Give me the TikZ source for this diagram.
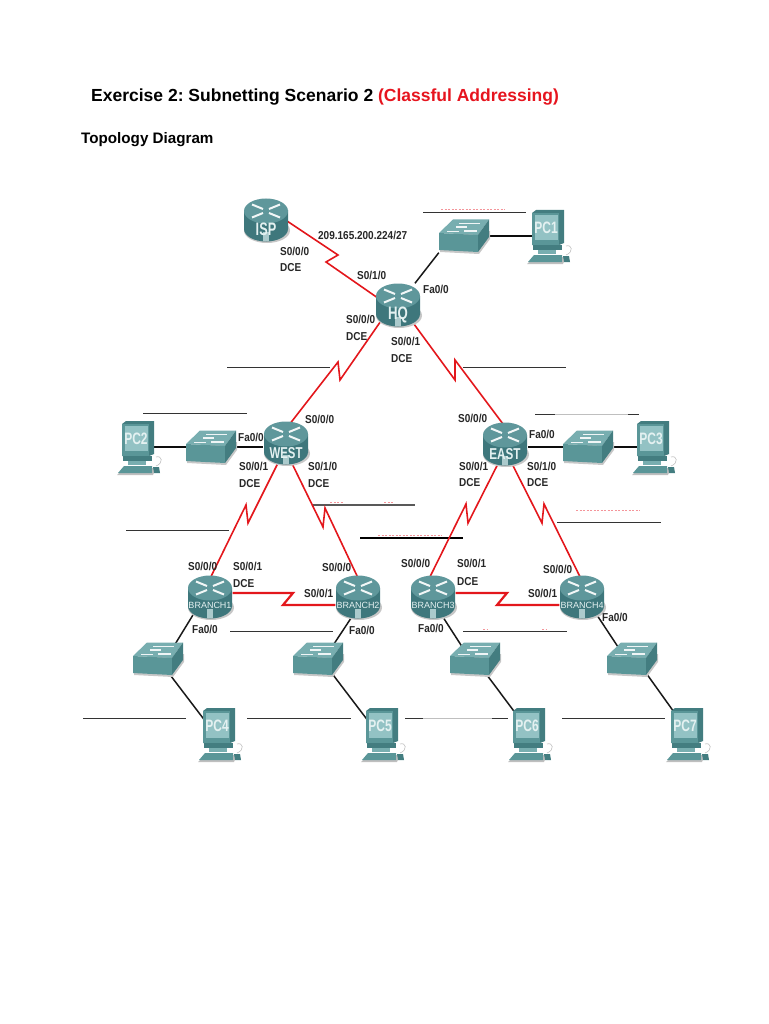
\documentclass[tikz,border=0pt]{standalone}
\usepackage{fontspec}
\setmainfont{Liberation Sans}
\frenchspacing
\definecolor{titlered}{HTML}{E6141E}
\definecolor{cablered}{HTML}{E3171C}
\definecolor{routertop}{HTML}{5F979B}
\definecolor{routerdark}{HTML}{3E777C}
\definecolor{routermid}{HTML}{73A7AA}
\definecolor{boxtop}{HTML}{78AEB0}
\definecolor{boxfront}{HTML}{5A9698}
\definecolor{boxside}{HTML}{437D80}
\definecolor{screenfill}{HTML}{93C2C4}
\definecolor{devtextcol}{HTML}{E4F1F1}
\tikzset{
  routerbox/.style={minimum width=45pt,minimum height=43pt,inner sep=0pt},
  switchbox/.style={minimum width=50pt,minimum height=33pt,inner sep=0pt},
  pcbox/.style={minimum width=32pt,minimum height=36pt,inner sep=0pt},
  lbl/.style={anchor=west,inner sep=0pt,xscale=.87,transform shape,font=\bfseries\fontsize{11.5}{11.5}\selectfont,text=black!85},
  bigdev/.style={inner sep=0pt,text=devtextcol,transform shape,font=\bfseries\fontsize{15}{15}\selectfont},
  smalldev/.style={inner sep=0pt,text=devtextcol,transform shape,font=\fontsize{9}{9}\selectfont},
  serial/.style={draw=cablered,line width=1.6pt,line join=miter},
  serialwide/.style={draw=cablered,line width=2.2pt,line join=miter},
  lan/.style={draw=black!90,line width=1.5pt},
  lanwide/.style={draw=black!95,line width=2pt},
  blankrule/.style={draw=black!80,line width=0.9pt},
  fadedrule/.style={draw=black!25,line width=0.7pt},
  speck/.style={draw=titlered!45,line width=0.6pt,dash pattern=on 2pt off 1.5pt},
  router/.pic={
    \fill[black!22] (1,10.5) ellipse [x radius=23,y radius=12.5];
    \shade[left color=routerdark,middle color=routermid,right color=routerdark] (0,9) ellipse [x radius=22,y radius=12.5];
    \shade[left color=routerdark,middle color=routermid,right color=routerdark] (-22,-9) rectangle (22,9);
    \fill[routermid!60!white] (-3,12) rectangle (3,21.2);
    \fill[routertop] (0,-9) ellipse [x radius=22,y radius=12.5];
    \draw[white!92!routertop,line width=2pt] (-14,-15.5) -- (-3,-11) (14,-15.5) -- (3,-11) (-14,-2.5) -- (-3,-7) (14,-2.5) -- (3,-7);
  },
  switch/.pic={
    \fill[black!22] (-24,-1) -- (-24,16) -- (15,18) -- (26,3) -- (26,-5) -- cycle;
    \fill[boxtop] (-25,-3) -- (-11,-16.5) -- (25,-16.5) -- (14,-1) -- cycle;
    \fill[boxfront] (-25,-3) -- (14,-1) -- (14,16) -- (-25,14) -- cycle;
    \fill[boxside] (14,-1) -- (25,-16.5) -- (25,1) -- (14,16) -- cycle;
    \draw[white!88!boxtop,line width=1.3pt] (-5,-12.5) -- (8,-12.5) (0,-5) -- (13,-5) (-17,-4.5) -- (-5,-4.5) (6,-12.5) -- (16,-12.5) (-8,-9) -- (3,-9);
  },
  pc/.pic={
    \fill[black!25] (-13,29) -- (-21,36) -- (15,36) -- (18,29) -- cycle;
    \fill[boxside] (-16,-15) -- (-12,-18) -- (16,-18) -- (16,15) -- (11,17) -- (-16,17) -- cycle;
    \fill[boxfront] (-16,-15) rectangle (11,17);
    \fill[screenfill] (-13,-13) rectangle (10,12);
    \fill[boxside] (-15,17) rectangle (14,22);
    \fill[boxtop] (-10,22) rectangle (8,26);
    \fill[boxfront] (-14,27) -- (14,27) -- (14,34) -- (-20,34) -- cycle;
    \fill[boxside] (15,28) -- (21,28) -- (22,34) -- (16,34) -- cycle;
    \draw[black!25,line width=0.6pt] (18,27) .. controls (26,24) and (24,16) .. (18,18);
  },
}
\begin{document}
\begin{tikzpicture}[x=1pt,y=-1pt]
    \useasboundingbox (0,0) rectangle (768,1024);

    % Heading
    \node[anchor=west,inner sep=0pt,font=\bfseries\fontsize{17.5}{17.5}\selectfont] (heading) at (91,97.5) {Exercise 2: Subnetting Scenario 2 \textcolor{titlered}{(Classful Addressing)}};
    \node[anchor=west,inner sep=0pt,font=\bfseries\fontsize{15.2}{15.2}\selectfont] (topo) at (81,140) {Topology Diagram};

    % Define the positions of the devices
    \node[routerbox] (ISP) at (266,220) {};
    \node[routerbox] (HQ) at (398,305) {};
    \node[routerbox] (WEST) at (286,443) {};
    \node[routerbox] (EAST) at (505,444) {};
    \node[routerbox] (BRANCH1) at (210,597) {};
    \node[routerbox] (BRANCH2) at (358,597) {};
    \node[routerbox] (BRANCH3) at (433,597) {};
    \node[routerbox] (BRANCH4) at (582,597) {};
    \node[switchbox] (SW1) at (464,236) {};
    \node[switchbox] (SW2) at (211,447) {};
    \node[switchbox] (SW3) at (588,447) {};
    \node[switchbox] (SW4) at (158,659) {};
    \node[switchbox] (SW5) at (318,659) {};
    \node[switchbox] (SW6) at (475,659) {};
    \node[switchbox] (SW7) at (632,659) {};
    \node[pcbox] (PC1) at (548,228) {};
    \node[pcbox] (PC2) at (138,439) {};
    \node[pcbox] (PC3) at (653,439) {};
    \node[pcbox] (PC4) at (219,726) {};
    \node[pcbox] (PC5) at (382,726) {};
    \node[pcbox] (PC6) at (529,726) {};
    \node[pcbox] (PC7) at (687,726) {};

    % Draw the empty address lines
    \draw[blankrule] (423,212) -- (526,212);
    \draw[blankrule] (227,367) -- (330,367);
    \draw[blankrule] (463,367) -- (566,367);
    \draw[blankrule] (143,413) -- (247,413);
    \draw[fadedrule] (535,414) -- (639,414);
    \draw[blankrule] (535,414) -- (555,414);
    \draw[blankrule] (628,414) -- (639,414);
    \draw[blankrule] (126,530) -- (229,530);
    \draw[blankrule,line width=1.2pt,draw=black!65] (312,505) -- (415,505);
    \draw[blankrule,line width=1.2pt,draw=black] (360,538) -- (463,538);
    \draw[blankrule] (557,522) -- (661,522);
    \draw[blankrule] (230,631) -- (333,631);
    \draw[blankrule] (463,631) -- (567,631);
    \draw[blankrule] (83,718) -- (186,718);
    \draw[blankrule] (247,718) -- (351,718);
    \draw[fadedrule] (405,718) -- (508,718);
    \draw[blankrule] (405,718) -- (423,718);
    \draw[blankrule] (492,718) -- (508,718);
    \draw[blankrule] (562,718) -- (665,718);
    % what is left of the erased addresses
    \draw[speck] (441,209) -- (505,209);
    \draw[speck] (330,502) -- (343,502);
    \draw[speck] (384,502) -- (393,502);
    \draw[speck] (378,535) -- (442,535);
    \draw[speck] (576,510) -- (640,510);
    \draw[speck] (483,629) -- (487,629);
    \draw[speck] (542,629) -- (546,629);

    % Serial links
    \draw[serial] ([yshift=13pt]ISP.center) -- (338,255) -- (326,262) -- ([yshift=-7pt]HQ.center);
    \draw[serial] ([xshift=-6pt]HQ.center) -- (340,380) -- (338,362) -- ([xshift=-11pt]WEST.center);
    \draw[serial] ([xshift=2pt]HQ.center) -- (455,380) -- (455,360) -- ([xshift=13pt]EAST.center);
    \draw[serial] ([xshift=2pt]WEST.center) -- (248,523) -- (246,505) -- ([xshift=-9pt]BRANCH1.center);
    \draw[serial] ([xshift=-4pt]WEST.center) -- (323,527) -- (325,508) -- ([xshift=9pt]BRANCH2.center);
    \draw[serial] ([xshift=3pt]EAST.center) -- (468,523) -- (466,504) -- ([xshift=-13pt]BRANCH3.center);
    \draw[serial] ([xshift=-3pt]EAST.center) -- (542,523) -- (544,504) -- ([xshift=8pt]BRANCH4.center);
    \draw[serialwide] (BRANCH1.east |- 0,593) -- (293,593) -- (283,605) -- (BRANCH2.west |- 0,605);
    \draw[serialwide] (BRANCH3.east |- 0,593) -- (507,593) -- (497,605) -- (BRANCH4.west |- 0,605);

    % Ethernet links
    \draw[lan] (HQ) -- (SW1.south west);
    \draw[lanwide] (SW1.east) -- (SW1.east -| PC1.west);
    \draw[lanwide] (SW2.east) -- (SW2.east -| WEST.west);
    \draw[lanwide] (SW2.west) -- (SW2.west -| PC2.east);
    \draw[lanwide] (SW3.west) -- (SW3.west -| EAST.east);
    \draw[lanwide] (SW3.east) -- (SW3.east -| PC3.west);
    \draw[lan] ([xshift=-6pt]BRANCH1.center) -- ([xshift=8pt]SW4.center);
    \draw[lan] ([xshift=7pt]BRANCH2.center) -- ([xshift=6pt]SW5.center);
    \draw[lan] ([xshift=-3pt]BRANCH3.center) -- ([xshift=-5pt]SW6.center);
    \draw[lan] ([xshift=3pt]BRANCH4.center) -- ([xshift=-6pt]SW7.center);
    \draw[lan] (SW4) -- ([xshift=-10pt]PC4.center);
    \draw[lan] ([xshift=3pt]SW5.center) -- ([xshift=-10pt]PC5.center);
    \draw[lan] (SW6) -- ([xshift=-4pt]PC6.center);
    \draw[lan] ([xshift=4pt]SW7.center) -- ([xshift=-3pt]PC7.center);

    % Draw the devices over the links
    \pic at (ISP) {router};
    \pic at (HQ) {router};
    \pic at (WEST) {router};
    \pic at (EAST) {router};
    \pic at (BRANCH1) {router};
    \pic at (BRANCH2) {router};
    \pic at (BRANCH3) {router};
    \pic at (BRANCH4) {router};
    \pic at (SW1) {switch};
    \pic at (SW2) {switch};
    \pic at (SW3) {switch};
    \pic at (SW4) {switch};
    \pic at (SW5) {switch};
    \pic at (SW6) {switch};
    \pic at (SW7) {switch};
    \pic at (PC1) {pc};
    \pic at (PC2) {pc};
    \pic at (PC3) {pc};
    \pic at (PC4) {pc};
    \pic at (PC5) {pc};
    \pic at (PC6) {pc};
    \pic at (PC7) {pc};

    % Device names
    \node[bigdev,xscale=.85,yscale=1.2] (ISPname) at ([yshift=-9pt]ISP.center) {ISP};
    \node[bigdev,xscale=.88,yscale=1.2] (HQname) at ([yshift=-10pt]HQ.center) {HQ};
    \node[bigdev,xscale=.76,yscale=1.05] (WESTname) at ([yshift=-10pt]WEST.center) {WEST};
    \node[bigdev,xscale=.78,yscale=1.05] (EASTname) at ([yshift=-10pt]EAST.center) {EAST};
    \node[smalldev] (BRANCH1name) at ([yshift=-8pt]BRANCH1.center) {BRANCH1};
    \node[smalldev] (BRANCH2name) at ([yshift=-8pt]BRANCH2.center) {BRANCH2};
    \node[smalldev] (BRANCH3name) at ([yshift=-8pt]BRANCH3.center) {BRANCH3};
    \node[smalldev] (BRANCH4name) at ([yshift=-8pt]BRANCH4.center) {BRANCH4};
    \node[bigdev,xscale=.8,yscale=1.1] (PC1name) at ([xshift=-2pt]PC1.center) {PC1};
    \node[bigdev,xscale=.8,yscale=1.1] (PC2name) at ([xshift=-2pt]PC2.center) {PC2};
    \node[bigdev,xscale=.8,yscale=1.1] (PC3name) at ([xshift=-2pt]PC3.center) {PC3};
    \node[bigdev,xscale=.8,yscale=1.1] (PC4name) at ([xshift=-2pt]PC4.center) {PC4};
    \node[bigdev,xscale=.8,yscale=1.1] (PC5name) at ([xshift=-2pt]PC5.center) {PC5};
    \node[bigdev,xscale=.8,yscale=1.1] (PC6name) at ([xshift=-2pt]PC6.center) {PC6};
    \node[bigdev,xscale=.8,yscale=1.1] (PC7name) at ([xshift=-2pt]PC7.center) {PC7};

    % Interface labels
    \node[lbl] (netISP) at (318,235) {209.165.200.224/27};
    \node[lbl] (ispSer) at (280,251) {S0/0/0};
    \node[lbl] (ispDce) at (280,268) {DCE};
    \node[lbl] (hqSerA) at (357,275) {S0/1/0};
    \node[lbl] (hqFa) at (423,289) {Fa0/0};
    \node[lbl] (hqSerB) at (346,319) {S0/0/0};
    \node[lbl] (hqDceB) at (346,337) {DCE};
    \node[lbl] (hqSerC) at (391,341) {S0/0/1};
    \node[lbl] (hqDceC) at (391,359) {DCE};

    \node[lbl] (westSerA) at (305,419) {S0/0/0};
    \node[lbl] (westFa) at (238,437) {Fa0/0};
    \node[lbl] (westSerB) at (239,466) {S0/0/1};
    \node[lbl] (westDceB) at (239,484) {DCE};
    \node[lbl] (westSerC) at (308,466) {S0/1/0};
    \node[lbl] (westDceC) at (308,484) {DCE};

    \node[lbl] (eastSerA) at (458,418) {S0/0/0};
    \node[lbl] (eastFa) at (529,434) {Fa0/0};
    \node[lbl] (eastSerB) at (459,466) {S0/0/1};
    \node[lbl] (eastDceB) at (459,483) {DCE};
    \node[lbl] (eastSerC) at (527,466) {S0/1/0};
    \node[lbl] (eastDceC) at (527,483) {DCE};

    \node[lbl] (brOneSerA) at (188,566) {S0/0/0};
    \node[lbl] (brOneSerB) at (233,566) {S0/0/1};
    \node[lbl] (brOneDce) at (233,584) {DCE};
    \node[lbl] (brOneFa) at (192,629) {Fa0/0};
    \node[lbl] (brTwoSerA) at (322,567) {S0/0/0};
    \node[lbl] (brTwoSerB) at (304,593) {S0/0/1};
    \node[lbl] (brTwoFa) at (349,630) {Fa0/0};
    \node[lbl] (brThreeSerA) at (401,563) {S0/0/0};
    \node[lbl] (brThreeSerB) at (457,563) {S0/0/1};
    \node[lbl] (brThreeDce) at (457,582) {DCE};
    \node[lbl] (brThreeFa) at (418,628) {Fa0/0};
    \node[lbl] (brFourSerA) at (543,569) {S0/0/0};
    \node[lbl] (brFourSerB) at (528,593) {S0/0/1};
    \node[lbl] (brFourFa) at (602,617) {Fa0/0};
\end{tikzpicture}
\end{document}
